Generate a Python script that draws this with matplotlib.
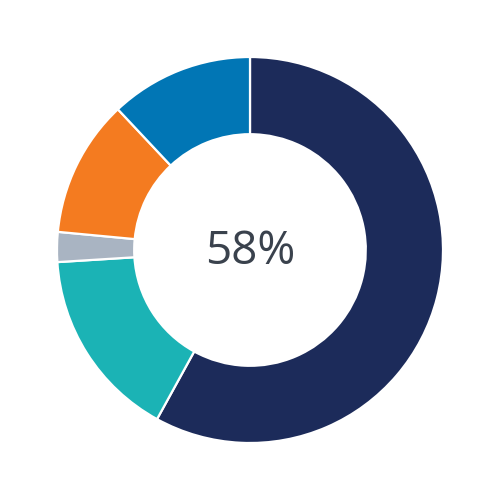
import matplotlib
matplotlib.use("Agg")
import matplotlib.pyplot as plt

# slice shares, clockwise from 12 o'clock
labels = ['Navy', 'Teal', 'Gray', 'Orange', 'Blue']
shares = [58, 16, 2.5, 11.5, 12]
colors = ['#1c2b5a', '#1bb3b5', '#a9b4c2', '#f47b20', '#0176b5']
center_text = '58%'

fig = plt.figure(figsize=(5, 5), dpi=100)
ax = fig.add_axes([0, 0, 1, 1])

ax.pie(shares, colors=colors, startangle=90, counterclock=False,
       radius=1.0,
       wedgeprops=dict(width=0.4, edgecolor='white', linewidth=1.6))

ax.text(0, -0.01, center_text, ha='center', va='center',
        fontsize=33, color='#3a424d', family=['Open Sans', 'DejaVu Sans'])

lim = 250 / 193
ax.set_xlim(-lim, lim)
ax.set_ylim(-lim, lim)
ax.set_aspect('equal')
ax.axis('off')

fig.savefig('out.png', dpi=100, facecolor='white')
